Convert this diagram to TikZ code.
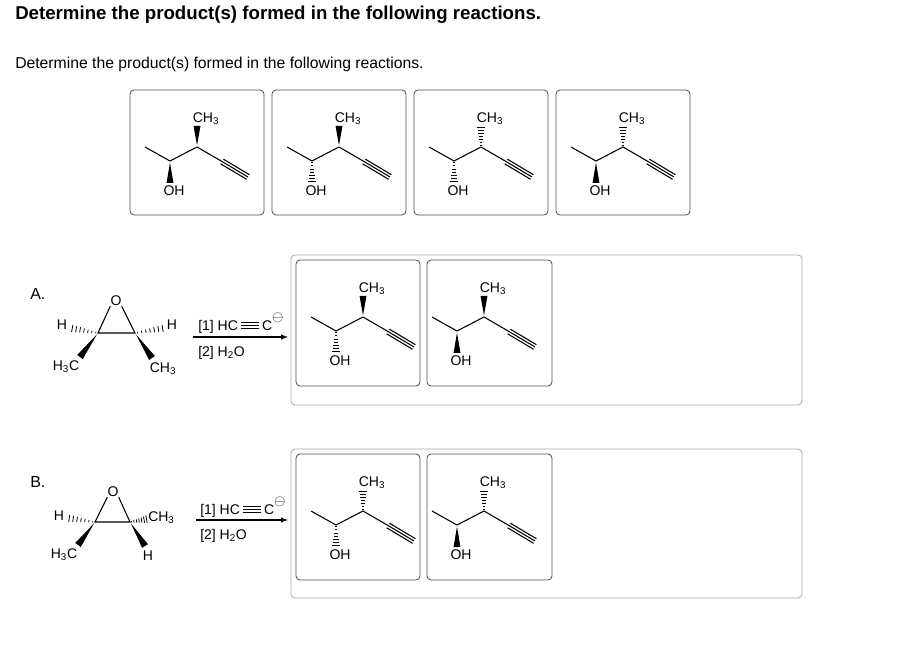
\documentclass[tikz,border=0pt]{standalone}
\usepackage{fontspec}
\setmainfont{Liberation Sans}
\usetikzlibrary{calc}
\tikzset{bond/.style={line width=0.8pt},
 box/.style={draw=black!70,rounded corners=3pt,line width=0.6pt},
 obox/.style={draw=black!35,rounded corners=3pt,line width=0.6pt},
 lab/.style={inner sep=0pt,font=\fontsize{10.5}{12}\selectfont}}
\newcommand\sbt[1]{\textsubscript{#1}}
\newcommand\tripbar{\,\tikz[baseline={(0pt,-3.8pt)}]{\draw[line width=0.6pt] (0pt,2.2pt)--(14pt,2.2pt) (0pt,0pt)--(14pt,0pt) (0pt,-2.2pt)--(14pt,-2.2pt);}\,}
\newcommand\wedgeb[2]{\fill ($(#1)!1.2pt!(#2)$) -- ($(#2)!2.6pt!90:(#1)$) -- ($(#2)!2.6pt!-90:(#1)$) -- cycle;}
\newcommand\hashb[2]{\foreach \t in {0.08,0.22,...,1.0}{\draw[line width=0.6pt] ($($(#1)!\t!(#2)$)!{\t*2.6pt+0.3pt}!90:(#2)$) -- ($($(#1)!\t!(#2)$)!{\t*2.6pt+0.3pt}!-90:(#2)$);}}
\newcommand\mol[4]{\begin{scope}[shift={(#1,#2)}]
\coordinate (m) at (-25,-14); \coordinate (c2) at (0,0); \coordinate (c3) at (27,-14);
\coordinate (am) at (52,0.5); \coordinate (ae) at (78,16);
\draw[bond] (m)--(c2)--(c3)--(am)--(ae);
\draw[bond] ([shift={(-1.4,2.3)}]am) -- ([shift={(-1.4,2.3)}]ae);
\draw[bond] ([shift={(1.4,-2.3)}]am) -- ([shift={(1.4,-2.3)}]ae);
\node[lab] (ch) at (36,-42) {CH\sbt{3}}; \coordinate (chb) at (27,-35);
\node[lab] (oh) at (4,30) {OH}; \coordinate (ohb) at (0,22);
#3{c3}{chb}
#4{c2}{ohb}
\end{scope}}
\begin{document}
\begin{tikzpicture}[x=0.75pt,y=-0.75pt]
\useasboundingbox (0,0) rectangle (897,652);
\node[anchor=west,inner sep=0pt,font=\bfseries\fontsize{14}{16}\selectfont] (t) at (15,15) {Determine the product(s) formed in the following reactions.};
\node[anchor=west,inner sep=0pt,font=\fontsize{11.8}{14}\selectfont] (s) at (15,64) {Determine the product(s) formed in the following reactions.};
% top choices
\foreach \i/\a/\b in {0/\wedgeb/\wedgeb,1/\wedgeb/\hashb,2/\hashb/\hashb,3/\hashb/\wedgeb}{
 \draw[box] (130+142*\i,90) rectangle (264+142*\i,215);
 \mol{170+142*\i}{161}{\a}{\b}
}
% answer boxes
\draw[obox] (291,255) rectangle (802,405);
\draw[box] (296,260) rectangle (420,386);
\draw[box] (427,260) rectangle (552,386);
\mol{336}{331}{\wedgeb}{\hashb}
\mol{457}{331}{\wedgeb}{\wedgeb}
\draw[obox] (291,449) rectangle (802,598);
\draw[box] (296,454) rectangle (420,580);
\draw[box] (427,454) rectangle (552,580);
\mol{336}{525}{\hashb}{\hashb}
\mol{457}{525}{\hashb}{\wedgeb}
% A
\node[anchor=west,inner sep=0pt,font=\fontsize{12}{14}\selectfont] (la) at (30,294) {A.};
\node[lab] (oa) at (116,301) {O};
\coordinate (al) at (98,333); \coordinate (ar) at (135,333);
\draw[bond] (oa.south west)--(al)--(ar)--(oa.south east);
\node[lab] (ha1) at (62,325) {H}; \coordinate (ha1b) at (70,328);
\hashb{al}{ha1b}
\node[lab] (ha2) at (172,325) {H}; \coordinate (ha2b) at (165,328);
\hashb{ar}{ha2b}
\node[lab] (ma1) at (66,367) {H\sbt{3}C}; \coordinate (ma1b) at (80,357);
\wedgeb{al}{ma1b}
\node[lab] (ma2) at (163,369) {CH\sbt{3}}; \coordinate (ma2b) at (152,358);
\wedgeb{ar}{ma2b}
\coordinate (a0) at (193,337); \coordinate (a1) at (288,337);
\draw[line width=0.8pt,-latex] (a0) -- (a1);
\node[lab,anchor=west] (ra1) at (198,323) {[1] HC\tripbar C\raisebox{1.2ex}{$\ominus$}};
\node[lab,anchor=west] (ra2) at (198,353) {[2] H\sbt{2}O};
% B
\node[anchor=west,inner sep=0pt,font=\fontsize{12}{14}\selectfont] (lb) at (30,482) {B.};
\node[lab] (ob) at (113,492) {O};
\coordinate (bl) at (95,522); \coordinate (br) at (130,522);
\draw[bond] (ob.south west)--(bl)--(br)--(ob.south east);
\node[lab] (hb1) at (59,516) {H}; \coordinate (hb1b) at (67,518);
\hashb{bl}{hb1b}
\node[lab,anchor=west] (mb2) at (148,518) {CH\sbt{3}}; \coordinate (mb2b) at (148,519);
\hashb{br}{mb2b}
\node[lab] (mb1) at (64,555) {H\sbt{3}C}; \coordinate (mb1b) at (78,545);
\wedgeb{bl}{mb1b}
\node[lab] (hb2) at (148,556) {H}; \coordinate (hb2b) at (145,546);
\wedgeb{br}{hb2b}
\coordinate (b0) at (196,520); \coordinate (b1) at (288,520);
\draw[line width=0.8pt,-latex] (b0) -- (b1);
\node[lab,anchor=west] (rb1) at (200,507) {[1] HC\tripbar C\raisebox{1.2ex}{$\ominus$}};
\node[lab,anchor=west] (rb2) at (200,536) {[2] H\sbt{2}O};
\end{tikzpicture}
\end{document}
